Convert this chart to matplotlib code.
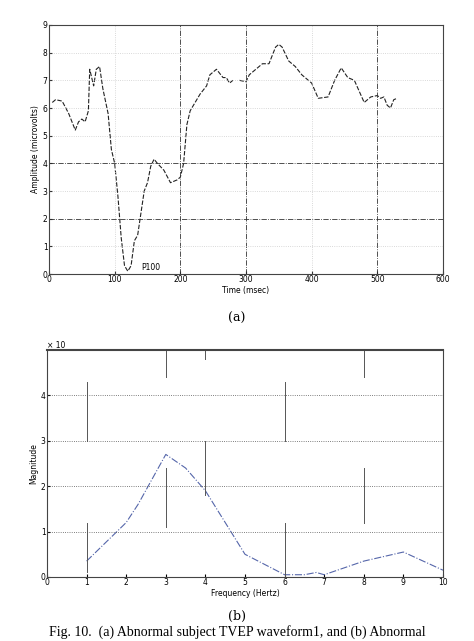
import matplotlib
matplotlib.use('Agg')
import matplotlib.pyplot as plt
import numpy as np

t1 = [5,10,20,30,40,45,50,55,60,62,68,72,77,82,90,95,100,105,110,115,120,125,130,135,140,145,150,155,160,165,175,185,190,195,200,205,210,215,220,225,230,240,245,255,265,270,275,280]
a1 = [6.2,6.3,6.25,5.8,5.2,5.5,5.6,5.5,5.9,7.4,6.8,7.4,7.5,6.7,5.8,4.5,4.0,2.8,1.3,0.3,0.1,0.3,1.2,1.4,2.2,3.0,3.3,3.9,4.15,4.0,3.75,3.3,3.35,3.4,3.5,4.0,5.4,5.9,6.1,6.3,6.5,6.8,7.2,7.4,7.1,7.1,6.9,7.0]
t2 = [290,300,305,315,325,335,345,350,355,365,375,385,400,410,425,435,445,455,465,480,490,500,505,510,515,520,525,530]
a2 = [7.0,6.95,7.2,7.4,7.6,7.6,8.2,8.3,8.2,7.7,7.5,7.2,6.9,6.35,6.4,7.0,7.45,7.1,7.0,6.2,6.4,6.45,6.35,6.4,6.1,6.0,6.3,6.35]
freq = [1,2,2.3,3,3.5,4,5,6,6.5,6.8,7,8,9,10]
mag = [0.35,1.2,1.6,2.7,2.4,1.9,0.5,0.05,0.05,0.1,0.05,0.35,0.55,0.15]

fig = plt.figure(figsize=(4.74,6.41), dpi=100)
W,H = 474,641
ax1 = fig.add_axes([49/W, 1-274/H, 394/W, 249/H])
ax2 = fig.add_axes([47/W, 1-577/H, 396/W, 227/H])
fs = 5.5
for ax in (ax1, ax2):
    ax.tick_params(labelsize=fs, length=2, direction='in', pad=1)
    for s in ax.spines.values():
        s.set_linewidth(0.8); s.set_color('#444')
ax2.spines['top'].set_linewidth(1.5)

ax1.plot(t1, a1, color='#222', lw=0.8, ls=(0,(4,1.5)))
ax1.plot(t2, a2, color='#222', lw=0.8, ls=(0,(4,1.5)))
ax1.set_xlim(0,600); ax1.set_ylim(0,9)
ax1.set_xticks(range(0,601,100)); ax1.set_yticks(range(0,10))
for x in range(100,600,100):
    dark = x in (200,300,500)
    ax1.axvline(x, color='#333' if dark else '#ccc', lw=0.6, ls='-.' if dark else ':')
for y in range(1,9):
    dark = y in (2,4)
    ax1.axhline(y, color='#333' if dark else '#ccc', lw=0.6, ls='-.' if dark else ':')
ax1.set_xlabel('Time (msec)', fontsize=fs, labelpad=1)
ax1.set_ylabel('Amplitude (microvolts)', fontsize=fs, labelpad=2)
ax1.text(140, 0.15, 'P100', fontsize=fs)
fig.text(0.5, 1-322/H, '(a)', ha='center', fontsize=9, family='DejaVu Serif')

ax2.plot(freq, mag, color='#5566aa', lw=0.8, ls='-.')
ax2.set_xlim(0,10); ax2.set_ylim(0,5)
ax2.set_xticks(range(0,11)); ax2.set_yticks(range(0,5))
for y in range(1,5):
    ax2.axhline(y, color='#555', lw=0.6, ls=':')
segs = [(1,0.1,1.2),(1,3.0,4.3),(3,4.4,5),(3,1.1,2.4),(4,1.8,3.0),(4,4.8,5),(6,0,1.2),(6,3.0,4.3),(8,4.4,5),(8,1.2,2.4)]
for x,y0,y1 in segs:
    ax2.plot([x,x],[y0,y1], color='#555', lw=0.7)
ax2.set_xlabel('Frequency (Hertz)', fontsize=fs, labelpad=1)
ax2.set_ylabel('Magnitude', fontsize=fs, labelpad=2)
ax2.text(0, 5.05, '× 10', fontsize=fs)
fig.text(0.5, 1-620/H, '(b)', ha='center', fontsize=9, family='DejaVu Serif')
fig.text(0.5, 1-639/H, 'Fig. 10.  (a) Abnormal subject TVEP waveform1, and (b) Abnormal', ha='center', va='bottom', fontsize=10, family='Liberation Serif')
fig.savefig('out.png', dpi=100)
